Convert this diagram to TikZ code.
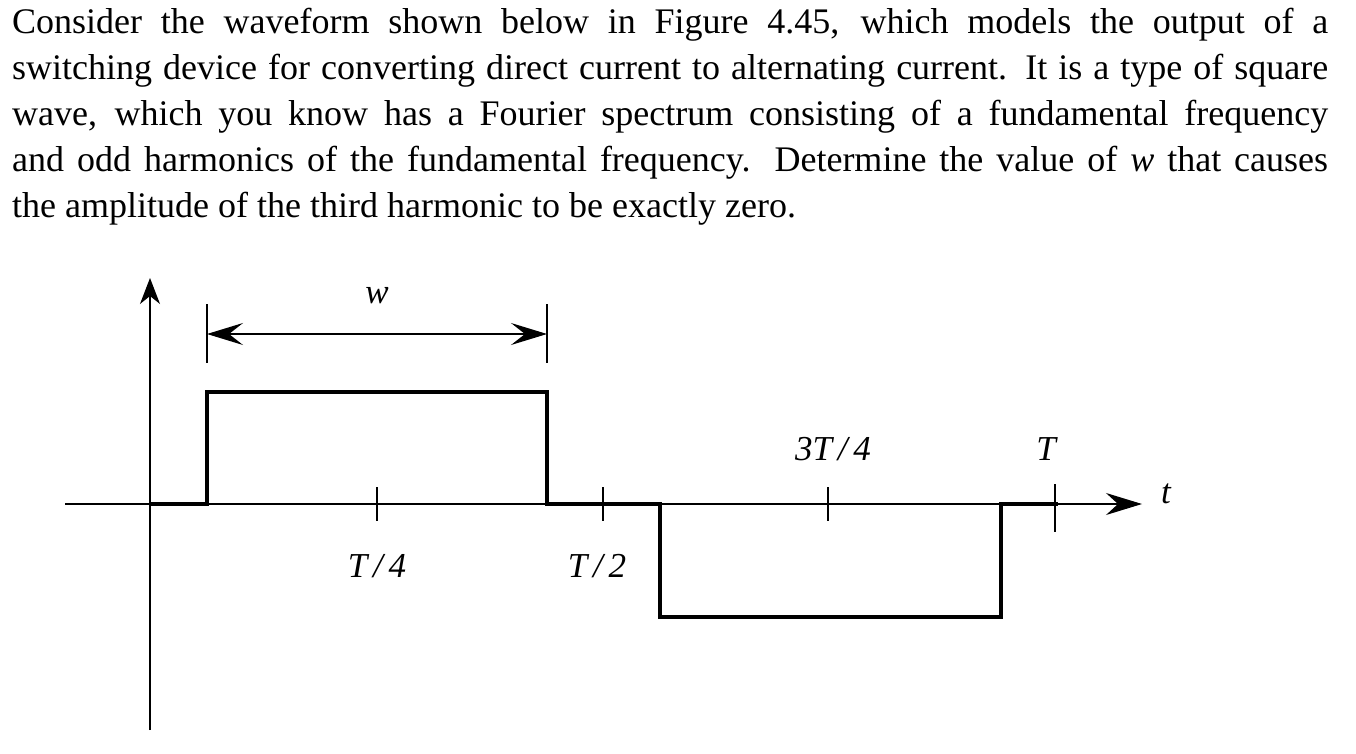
\documentclass[tikz,border=0pt]{standalone}
\usepackage{fontspec}
\setmainfont{Liberation Serif}
\usetikzlibrary{arrows.meta}
\begin{document}
\begin{tikzpicture}[x=1pt,y=-1pt,
  axis/.style={line width=1.2pt},
  wave/.style={line width=4pt,line join=miter},
  tick/.style={line width=1.2pt},
  lbl/.style={font=\fontsize{35}{38}\selectfont\itshape}]
\useasboundingbox (0,0) rectangle (1356,754);
\node[anchor=north west,inner sep=0pt,text width=1316pt,align=justify,
  font=\fontsize{36}{46}\selectfont] (para) at (12,8)
{Consider the waveform shown below in Figure 4.45, which models the output of a\linebreak
switching device for converting direct current to alternating current. It is a type of square\linebreak
wave, which you know has a Fourier spectrum consisting of a fundamental frequency\linebreak
and odd harmonics of the fundamental frequency. Determine the value of \textit{w} that causes\linebreak
the amplitude of the third harmonic to be exactly zero.};
% axes
\coordinate (yb) at (150,730); \coordinate (yt) at (150,278);
\coordinate (xl) at (65,504); \coordinate (xr) at (1142,504);
\draw[axis,-{Stealth[length=26pt,width=20pt,inset=8pt]}] (yb) -- (yt);
\draw[axis,-{Stealth[length=36pt,width=22pt,inset=12pt]}] (xl) -- (xr);
\node[lbl] (tl) at (1166,494) {t};
% ticks
\foreach \n/\x/\a/\b in {q1/377/487/521, q2/603/487/521, q3/828/487/521, q4/1055/484/532}
  \draw[tick] (\x,\a) -- (\x,\b);
\node[lbl] (l1) at (377,566) {T\,/\,4};
\node[lbl] (l2) at (597,566) {T\,/\,2};
\node[lbl] (l3) at (833,449) {3T\,/\,4};
\node[lbl] (l4) at (1046,449) {T};
% waveform
\draw[wave] (150,504) -- (207,504) -- (207,392) -- (547,392) -- (547,504)
  -- (660,504) -- (660,617) -- (1001,617) -- (1001,504) -- (1058,504);
% w dimension
\coordinate (wa) at (207,334); \coordinate (wb) at (547,334);
\draw[tick] (207,304) -- (207,363);
\draw[tick] (547,304) -- (547,363);
\draw[tick,{Stealth[length=36pt,width=22pt,inset=14pt]}-{Stealth[length=36pt,width=22pt,inset=14pt]}] (wa) -- (wb);
\node[lbl] (wl) at (377,296) {w};
\end{tikzpicture}
\end{document}
